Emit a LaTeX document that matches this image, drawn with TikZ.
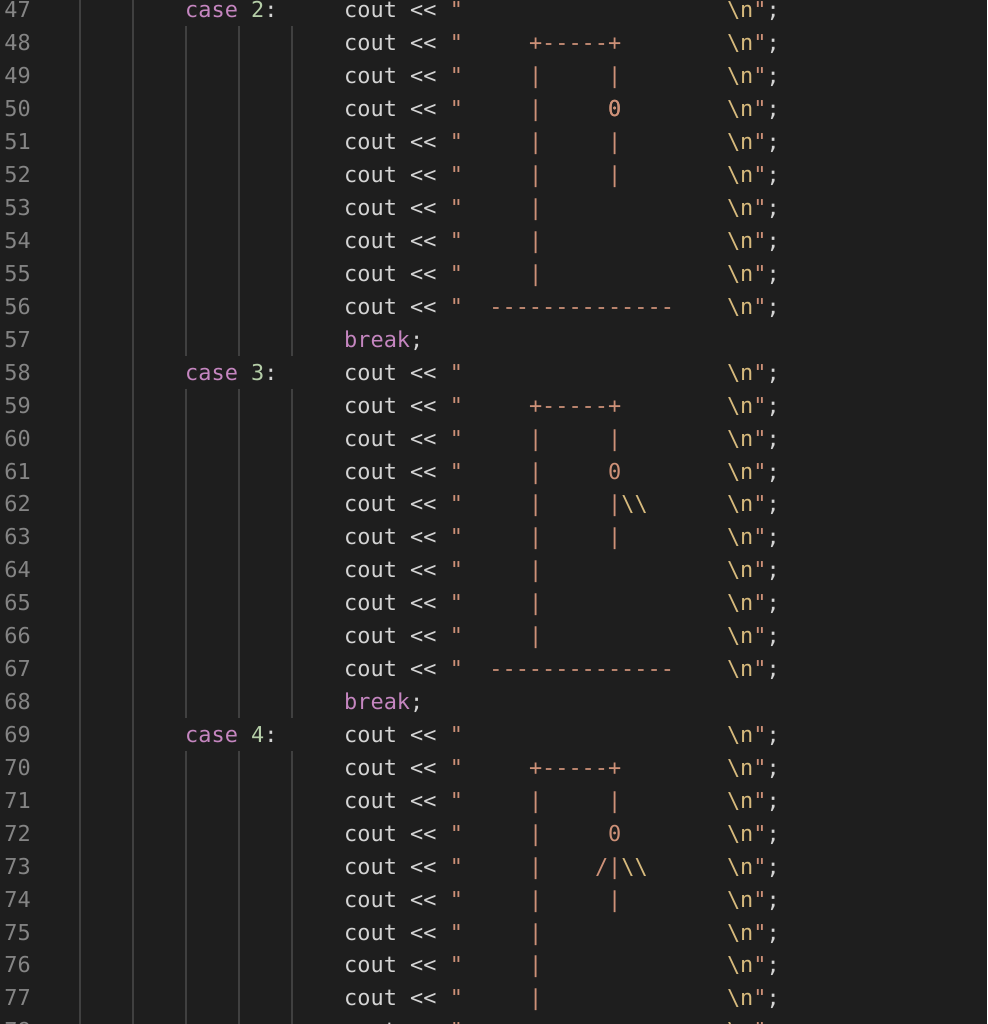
\documentclass[tikz,border=0pt]{standalone}
\usepackage{fontspec}
\setmonofont{DejaVu Sans Mono}
\definecolor{bg}{HTML}{1E1E1E}
\definecolor{fg}{HTML}{D4D4D4}
\definecolor{strc}{HTML}{CE9178}
\definecolor{kw}{HTML}{C586C0}
\definecolor{num}{HTML}{B5CEA8}
\definecolor{esc}{HTML}{D7BA7D}
\definecolor{lno}{HTML}{858585}
\definecolor{guide}{HTML}{404040}
\newcounter{tk}
\tikzset{tok/.style={inner sep=0pt,anchor=base west,font=\ttfamily\fontsize{21.9}{26}\selectfont,text=fg},
 sc/.style={text=strc}, kc/.style={text=kw}, nc/.style={text=num}, ec/.style={text=esc},
 ln/.style={inner sep=0pt,anchor=base east,font=\ttfamily\fontsize{21.9}{26}\selectfont,text=lno},
 gl/.style={draw=guide,line width=1.2pt}}
\newcommand{\Y}[1]{-(18+(#1-47)*32.93)}
\newcommand{\tok}[4]{\stepcounter{tk}\node[tok,#3] (t\arabic{tk}) at ({344+#2*13.2},{\Y{#1}}) {#4};}
\newcommand{\ctok}[4]{\stepcounter{tk}\node[tok,#3] (t\arabic{tk}) at ({185+#2*13.2},{\Y{#1}}) {#4};}
\newcommand{\Q}{\symbol{34}}
\newcommand{\cout}[1]{\tok{#1}{0}{}{cout}\tok{#1}{5}{}{<<}\tok{#1}{8}{sc}{\Q}\tok{#1}{29}{ec}{\textbackslash n}\tok{#1}{31}{sc}{\Q}\tok{#1}{32}{}{;}\node[ln] (n#1) at (31,{\Y{#1}}) {#1};}
\newcommand{\caseline}[2]{\ctok{#1}{0}{kc}{case}\ctok{#1}{5}{nc}{#2}\ctok{#1}{6}{}{:}}
\newcommand{\gallow}[1]{%
 \tok{\numexpr#1+1}{14}{sc}{+-----+}%
 \tok{\numexpr#1+2}{14}{sc}{|}\tok{\numexpr#1+2}{20}{sc}{|}%
 \tok{\numexpr#1+3}{14}{sc}{|}\tok{\numexpr#1+3}{20}{sc}{0}%
 \tok{\numexpr#1+4}{14}{sc}{|}\tok{\numexpr#1+5}{14}{sc}{|}%
 \tok{\numexpr#1+6}{14}{sc}{|}\tok{\numexpr#1+7}{14}{sc}{|}\tok{\numexpr#1+8}{14}{sc}{|}}
\begin{document}
\begin{tikzpicture}[x=1pt,y=1pt]
\fill[bg] (0,0) rectangle (987,-1024);
\useasboundingbox (0,0) rectangle (987,-1024);
\clip (0,0) rectangle (987,-1024);
% indent guides
\foreach \gx in {80,133} \draw[gl] (\gx,0) -- (\gx,-1024);
\foreach \ys/\ye in {26.5/355.8, 388.7/718.0, 750.9/1024}
  \foreach \gx in {186,239,292} \draw[gl] (\gx,-\ys) -- (\gx,-\ye);
% case 2
\foreach \i in {47,...,56} {\cout{\i}}
\caseline{47}{2}
\gallow{47}
\tok{50}{20}{sc}{0}
\tok{51}{20}{sc}{|}\tok{52}{20}{sc}{|}
\tok{56}{11}{sc}{--------------}
\tok{57}{0}{kc}{break}\tok{57}{5}{}{;}\node[ln] (n57) at (31,{\Y{57}}) {57};
% case 3
\foreach \i in {58,...,67} {\cout{\i}}
\caseline{58}{3}
\tok{59}{14}{sc}{+-----+}
\tok{60}{14}{sc}{|}\tok{60}{20}{sc}{|}
\tok{61}{14}{sc}{|}\tok{61}{20}{sc}{0}
\tok{62}{14}{sc}{|}\tok{62}{20}{sc}{|}\tok{62}{21}{ec}{\textbackslash\textbackslash}
\tok{63}{14}{sc}{|}\tok{63}{20}{sc}{|}
\tok{64}{14}{sc}{|}\tok{65}{14}{sc}{|}\tok{66}{14}{sc}{|}
\tok{67}{11}{sc}{--------------}
\tok{68}{0}{kc}{break}\tok{68}{5}{}{;}\node[ln] (n68) at (31,{\Y{68}}) {68};
% case 4
\foreach \i in {69,...,78} {\cout{\i}}
\caseline{69}{4}
\tok{70}{14}{sc}{+-----+}
\tok{71}{14}{sc}{|}\tok{71}{20}{sc}{|}
\tok{72}{14}{sc}{|}\tok{72}{20}{sc}{0}
\tok{73}{14}{sc}{|}\tok{73}{19}{sc}{/|}\tok{73}{21}{ec}{\textbackslash\textbackslash}
\tok{74}{14}{sc}{|}\tok{74}{20}{sc}{|}
\tok{75}{14}{sc}{|}\tok{76}{14}{sc}{|}\tok{77}{14}{sc}{|}
\tok{78}{11}{sc}{--------------}
\end{tikzpicture}
\end{document}
